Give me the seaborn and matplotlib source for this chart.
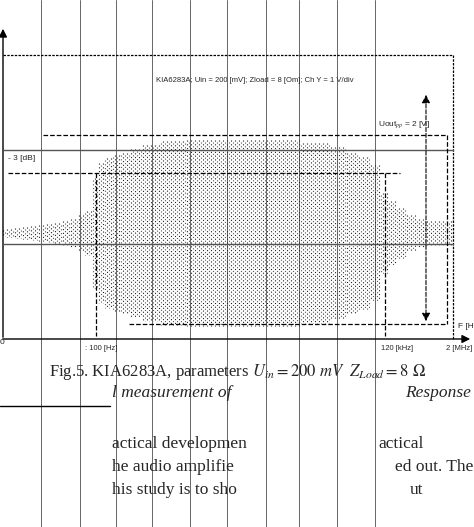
import matplotlib
matplotlib.use("Agg")
import matplotlib.pyplot as plt
import seaborn as sns
import numpy as np

sns.set_theme(style="white")
plt.rcParams['font.family'] = ['Liberation Sans', 'DejaVu Sans']
plt.rcParams['mathtext.fontset'] = 'stix'

# envelope (pixel-like units of the scope screen)
env_x = [3, 10, 18, 26, 34, 42, 50, 58, 66, 74, 80, 88, 95, 100, 108, 116, 125, 135, 150, 170,
         200, 240, 280, 320, 340, 352, 365, 375, 385, 392, 400, 410, 420, 430, 440, 453]
env_h = [3, 4, 5, 6, 7, 8, 9, 10, 12, 14, 18, 22, 55, 70, 75, 78, 80, 84, 88, 92,
         93, 93, 93, 90, 86, 80, 76, 68, 40, 32, 25, 18, 14, 12, 12, 12]
center = 233
grid_x = [41, 80, 116, 152, 190, 227, 266, 299, 337, 375]
tick_labels = [(85, ": 100 [Hz]"), (381, "120 [kHz]"), (446, "2 [MHz]")]

fig = plt.figure(figsize=(4.74, 5.27), dpi=100)
ax = fig.add_axes([0, 0, 1, 1])
ax.set_xlim(0, 474); ax.set_ylim(527, 0); ax.axis('off')

for gx in grid_x:
    ax.plot([gx, gx], [0, 527], color='#666', lw=0.7, zorder=1)

# stippled envelope: columns of dashes, height from the nearest listed envelope point
ex = np.array(env_x); eh = np.array(env_h)
cols = np.arange(3, 453, 2.0)
idx = np.abs(cols[:, None] - ex[None, :]).argmin(axis=1)
hh = eh[idx]
for off, c in [(0, '#222'), (1.6, '#555')]:
    s = int(off > 0)
    ax.vlines(cols[s::2], (center - hh)[s::2], (center + hh)[s::2],
              colors=c, linewidth=0.8, linestyles=(off, (1.0, 2.4)), zorder=2.5)

k = dict(color='black', lw=0.9, zorder=3)
ax.annotate('', xy=(3, 26), xytext=(3, 340), arrowprops=dict(arrowstyle='-|>', color='black', lw=1))
ax.annotate('', xy=(473, 339), xytext=(0, 339), arrowprops=dict(arrowstyle='-|>', color='black', lw=1))
ax.plot([3, 453], [55, 55], ls=(0, (2, 1)), **k)
ax.plot([453, 453], [55, 339], ls=(0, (2, 1)), **k)
ax.plot([3, 453], [150, 150], color='#555', lw=1, zorder=3)
ax.plot([3, 453], [244, 244], color='#555', lw=1, zorder=3)
ax.plot([43, 446], [135, 135], ls='--', **k)
ax.plot([8, 400], [173, 173], ls='--', **k)
ax.plot([129, 447], [324, 324], ls='--', **k)
for vx, y0, y1 in [(96, 173, 336), (385, 173, 336), (447, 135, 324)]:
    ax.plot([vx, vx], [y0, y1], ls='--', **k)
ax.annotate('', xy=(426, 92), xytext=(426, 324),
            arrowprops=dict(arrowstyle='<|-|>', color='black', lw=0.8, ls='--'))

ax.text(156, 81, "KIA6283A; Uin = 200 [mV]; Zload = 8 [Om]; Ch Y = 1 V/div", fontsize=5.5, va='center')
ax.text(378, 125, r"Uout$_{pp}$ = 2 [V]", fontsize=6, va='center')
ax.text(8, 158, "- 3 [dB]", fontsize=6, va='center')
ax.text(458, 327, "F [H", fontsize=6, va='center')
ax.text(0, 342, "0", fontsize=6, va='center')
for tx, tl in tick_labels:
    ax.text(tx, 348, tl, fontsize=5.5, va='center')

ser = ['Liberation Serif', 'DejaVu Serif']
fig.text(0.5, 1 - 372 / 527, r"Fig.5. KIA6283A, parameters $U_{in}=200\ mV$  $Z_{Load}=8\ \Omega$",
         ha='center', va='center', fontsize=12, family=ser)
ax.plot([0, 110], [406, 406], color='black', lw=1)
for x, y, s, st in [(112, 393, "l measurement of", 'italic'), (405, 393, "Response", 'italic'),
                    (112, 444, "actical developmen", 'normal'), (378, 444, "actical", 'normal'),
                    (112, 467, "he audio amplifie", 'normal'), (395, 467, "ed out. The", 'normal'),
                    (112, 490, "his study is to sho", 'normal'), (410, 490, "ut", 'normal')]:
    ax.text(x, y, s, fontsize=12.5, style=st, family=ser, va='center')

fig.savefig("out.png", dpi=100, facecolor='white')
